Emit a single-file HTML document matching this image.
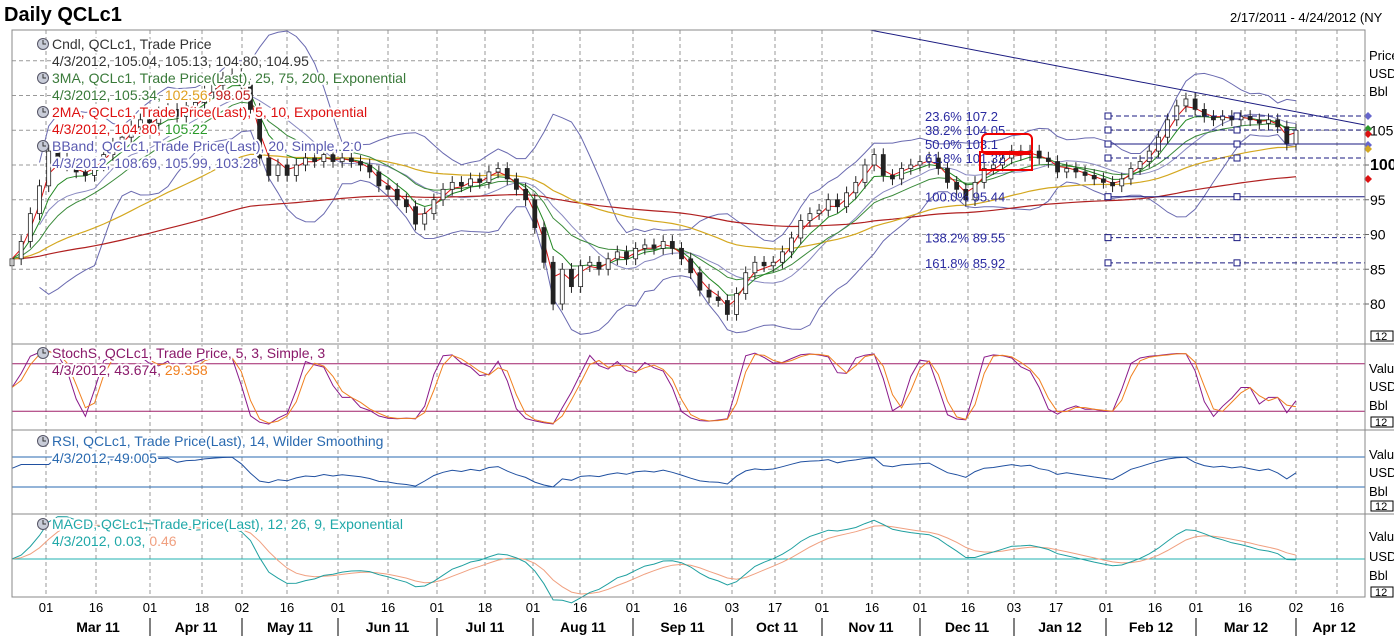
<!DOCTYPE html>
<html><head><meta charset="utf-8"><style>
html,body{margin:0;padding:0;background:#fff;}
svg{display:block;font-family:"Liberation Sans",Arial,sans-serif;}
.lg{font-size:14px;paint-order:stroke;stroke:#fff;stroke-width:4px;stroke-linejoin:round;}
</style></head><body>
<svg id="c" width="1394" height="637" viewBox="0 0 1394 637">
<text x="4" y="21" font-size="20" font-weight="bold" fill="#000">Daily QCLc1</text>
<text x="1230" y="22" font-size="13" fill="#000">2/17/2011 - 4/24/2012 (NY</text>
<g id="grid"></g><g id="marks"></g><g id="frame"></g><g id="legend"></g>
</svg>
<script>
// ---- data ----
const closes=[86.5,89,93,97,102,101,100,99,98.5,100,101.5,103,104,105.5,106.5,106,107.5,108,107,108.5,109,110.5,111.5,112.5,113,111.5,108,101,98.5,100,98.5,100,101,100.5,101.5,100.5,101,100.5,100,99,97,96.5,95,94,91.5,93,95,96.5,97.5,97,98,97.5,99,99.5,98,96.5,95,91,86,80,85,82.5,85.5,86,85,86.5,87.5,86.5,88,88.5,88,89,88,86.5,84.5,82,81,80.5,78.5,81.5,84.5,86,85.5,86,87.5,89.5,92,93,93.5,95,94,96,97.5,100,101.5,98.5,98,99.5,100,100.5,101,99.5,97.5,96.5,95,97.5,99.5,100,101,102,101.5,102,101,100.5,99,99.5,99,98.5,98,97.5,97,98,99.5,100.5,102,104,106.5,108.5,109.5,108,107,106.5,107,106.5,107,106.5,106,106.5,105.5,103,105];
const priceTicks=[80,85,90,95,100,105];
const dayLabels=["01","16","01","18","02","16","01","16","01","18","01","16","01","16","03","17","01","16","01","16","03","17","01","16","01","16","02","16"];
const dayX=[46,96,150,202,242,287,338,388,437,485,533,580,633,680,732,775,822,872,920,968,1014,1056,1106,1155,1196,1245,1296,1337];
const months=["Mar 11","Apr 11","May 11","Jun 11","Jul 11","Aug 11","Sep 11","Oct 11","Nov 11","Dec 11","Jan 12","Feb 12","Mar 12","Apr 12"];
const fibLevels=[107.2,104.05,103.1,101.32,95.44,89.55,85.92];
const fibPcts=["23.6%","38.2%","50.0%","61.8%","100.0%","138.2%","161.8%"];
// ---- helpers ----
const NS="http://www.w3.org/2000/svg";
function mk(p,t,a){const e=document.createElementNS(NS,t);for(const k in a)e.setAttribute(k,a[k]);p.appendChild(e);return e;}
const G=document.getElementById('grid'),M=document.getElementById('marks'),F=document.getElementById('frame'),L=document.getElementById('legend');
const X0=12,X1=1365,step=(1296-12)/(closes.length-1);
const xs=i=>X0+i*step;
const py=p=>165-(p-100)*6.95;
const sy=v=>427-v*0.79;
const ry=v=>472-(v-50)*0.75;
const my=v=>559-v*10;
function ema(a,n){const k=2/(n+1);let o=[],e=a[0];a.forEach((v,i)=>{e=i?v*k+e*(1-k):v;o.push(e);});return o;}
function sma(a,n){return a.map((v,i)=>{const s=a.slice(Math.max(0,i-n+1),i+1);return s.reduce((x,y)=>x+y,0)/s.length;});}
function line(arr,yf,col,w,name,start){let d="";arr.forEach((v,i)=>{if(i<(start||0))return;d+=(d?"L":"M")+xs(i).toFixed(1)+","+yf(v).toFixed(1);});
 const e=mk(M,'path',{d:d,fill:'none',stroke:col,'stroke-width':w});
 
 return e;}
// ---- grid ----
dayX.forEach(x=>{mk(G,'line',{x1:x,x2:x,y1:30,y2:597,stroke:'#999','stroke-dasharray':'4,3','stroke-width':1});});
[115,110,105,100,95,90,85,80].forEach(p=>mk(G,'line',{x1:X0,x2:X1,y1:py(p),y2:py(p),stroke:'#999','stroke-dasharray':'4,3'}));
// ---- frame ----
mk(F,'rect',{x:X0,y:30,width:X1-X0,height:567,fill:'none',stroke:'#888'});
[344,430,514].forEach(y=>mk(F,'line',{x1:X0,x2:1394,y1:y,y2:y,stroke:'#888'}));
priceTicks.forEach(p=>{mk(F,'line',{x1:X1,x2:X1+4,y1:py(p),y2:py(p),stroke:'#666'});
 const t=mk(F,'text',{x:1370,y:py(p)+5,'font-size':p===100?16:14,fill:'#000','font-weight':p===100?'bold':'normal'});t.textContent=String(p);
 
 });
[["Price",60],["USD",78],["Bbl",96]].forEach(a=>{const t=mk(F,'text',{x:1369,y:a[1],'font-size':13,fill:'#000'});t.textContent=a[0];});
[[373,"Valu"],[391,"USD"],[410,"Bbl"],[459,"Valu"],[477,"USD"],[496,"Bbl"],[541,"Valu"],[561,"USD"],[580,"Bbl"]].forEach(a=>{const t=mk(F,'text',{x:1369,y:a[0],'font-size':13,fill:'#000'});t.textContent=a[1];});
[340,426,510,596].forEach(y=>{mk(F,'rect',{x:1371,y:y-9,width:22,height:10,fill:'#fff',stroke:'#000'});const t=mk(F,'text',{x:1375,y:y,'font-size':11});t.textContent="12";});
dayLabels.forEach((d,i)=>{const t=mk(F,'text',{x:dayX[i],y:612,'font-size':13,'text-anchor':'middle',fill:'#000'});t.textContent=d;
 
 });
const mb=[12,150,242,338,437,533,633,732,822,920,1014,1106,1196,1296,1394];
mb.slice(1,-1).forEach(x=>mk(F,'line',{x1:x,x2:x,y1:618,y2:636,stroke:'#000'}));
months.forEach((m,i)=>{const t=mk(F,'text',{x:i==0?(46+150)/2:i==13?1334:(mb[i]+mb[i+1])/2,y:632,'font-size':14,'font-weight':'bold','text-anchor':'middle'});t.textContent=m;
 
 });
// ---- indicators ----
const e12=ema(closes,12),e37=ema(closes,37),e100=ema(closes,100),e2=ema(closes,2.5),e5=ema(closes,5);
const mid=sma(closes,10);
const sd=closes.map((v,i)=>{const s=closes.slice(Math.max(0,i-9),i+1);const m=mid[i];return Math.sqrt(s.reduce((a,b)=>a+(b-m)*(b-m),0)/s.length);});
line(mid.map((m,i)=>m+2*sd[i]+1),py,'#6a6ab0',1,'bband-upper',3);
line(mid.map((m,i)=>m-2*sd[i]-1),py,'#6a6ab0',1,'bband-lower',3);
line(mid,py,'#8888c0',1,'bband-middle',3);
line(e100,py,'#b02020',1.2,'ma-200');
line(e37,py,'#d4a820',1.2,'ma-75');
line(e12,py,'#3a8a3a',1,'ma-25');
line(e5,py,'#228822',1,'ma-10');
line(e2,py,'#dd1111',1,'ma-5');
closes.forEach((c,i)=>{const o=i?closes[i-1]:c-1;const hi=Math.max(o,c)+0.9,lo=Math.min(o,c)-0.9,x=xs(i);
 mk(M,'line',{x1:x,x2:x,y1:py(hi),y2:py(lo),stroke:'#222'});
 const r=mk(M,'rect',{x:x-2,y:py(Math.max(o,c)),width:4,height:Math.max(1,Math.abs(py(o)-py(c))),fill:c>=o?'#fff':'#222',stroke:'#222','stroke-width':0.8});
 
 });
// trendline & fib
mk(M,'line',{x1:870,y1:30,x2:1365,y2:125,stroke:'#1a1a80','stroke-width':1});
fibLevels.forEach((f,i)=>{const y=i<4?116+i*14:py(f);const solid=(i==2||i==4);
 mk(M,'line',{x1:1108,x2:1365,y1:y,y2:y,stroke:'#1a1a80','stroke-dasharray':solid?'':'5,3','stroke-width':1});
 [1108,1237].forEach(x=>mk(M,'rect',{x:x-3,y:y-3,width:6,height:6,fill:'#fff',stroke:'#1a1a80'}));
 const t=mk(M,'text',{x:925,y:y+5,'font-size':13,fill:'#2a2aa0'});t.textContent=fibPcts[i]+"  "+f.toFixed(2).replace(/0$/,'');
 
 });
mk(M,'rect',{x:982,y:134,width:50,height:20,rx:5,fill:'none',stroke:'#e00','stroke-width':2});
mk(M,'rect',{x:980,y:152,width:52,height:18,fill:'none',stroke:'#e00','stroke-width':2});
[[1368,116,'#6666cc'],[1368,129,'#2a9a2a'],[1368,134,'#dd1111'],[1368,145,'#6666cc'],[1368,149,'#d4a820'],[1368,179,'#dd1111']].forEach(a=>mk(M,'path',{d:`M${a[0]},${a[1]-4}l4,4l-4,4l-4,-4z`,fill:a[2]}));
// stochastic
const k=closes.map((c,i)=>{const s=closes.slice(Math.max(0,i-3),i+1);const h=Math.max(...s)+0.5,l=Math.min(...s)-0.5;return (c-l)/(h-l)*100;});
const ks=sma(k,2),ds=sma(ks,2);
mk(M,'line',{x1:X0,x2:X1,y1:sy(80),y2:sy(80),stroke:'#a0206a'});mk(M,'line',{x1:X0,x2:X1,y1:sy(20),y2:sy(20),stroke:'#a0206a'});
line(ks,sy,'#8a1a8a',1,'stoch-k');line(ds,sy,'#f08020',1,'stoch-d');
// RSI
let ag=0,al=0;const rsi=closes.map((c,i)=>{if(!i)return 60;const d=c-closes[i-1];ag=(ag*6+Math.max(d,0))/7;al=(al*6+Math.max(-d,0))/7;return al?100-100/(1+ag/al):70;}).map(v=>50+(v-50)*0.5);
mk(M,'line',{x1:X0,x2:X1,y1:ry(70),y2:ry(70),stroke:'#2a6ab0'});mk(M,'line',{x1:X0,x2:X1,y1:ry(30),y2:ry(30),stroke:'#2a6ab0'});
line(rsi,ry,'#2050a0',1,'rsi-line');
// MACD
const a6=ema(closes,6),a13=ema(closes,13);const macd=a6.map((v,i)=>(v-a13[i])*1.1);const sig=ema(macd,5);
mk(M,'line',{x1:X0,x2:X1,y1:my(0),y2:my(0),stroke:'#20b0b0'});
line(sig,my,'#f0a080',1,'macd-signal');line(macd,my,'#20a0a0',1,'macd-line');
// legends
function lg(x,y,parts,icon){if(icon){mk(L,'circle',{cx:x-9,cy:y-5,r:5.5,fill:'#c8ccd8',stroke:'#556'});mk(L,'path',{d:`M${x-9},${y-9}v4h3`,stroke:'#333',fill:'none'});}
 const t=mk(L,'text',{x:x,y:y,class:'lg'});
 parts.forEach(p=>{const s=mk(t,'tspan',{fill:p[1]});s.textContent=p[0];});}
lg(52,49,[["Cndl, QCLc1, Trade Price","#333"]],1);
lg(52,66,[["4/3/2012, 105.04, 105.13, 104.80, 104.95","#333"]]);
lg(52,83,[["3MA, QCLc1, Trade Price(Last),  25, 75, 200, Exponential","#3a7a3a"]],1);
lg(52,100,[["4/3/2012, 105.34, ","#3a7a3a"],["102.56, ","#e0a020"],["98.05","#c02020"]]);
lg(52,117,[["2MA, QCLc1, Trade Price(Last),  5, 10, Exponential","#dd1111"]],1);
lg(52,134,[["4/3/2012, 104.80, ","#dd1111"],["105.22","#2a9a2a"]]);
lg(52,151,[["BBand, QCLc1, Trade Price(Last),  20, Simple, 2.0","#5a5ab0"]],1);
lg(52,168,[["4/3/2012, 108.69, 105.99, 103.28","#5a5ab0"]]);
lg(52,358,[["StochS, QCLc1, Trade Price,  5, 3, Simple, 3","#8a1a6a"]],1);
lg(52,375,[["4/3/2012, 43.674, ","#8a1a6a"],["29.358","#f08020"]]);
lg(52,446,[["RSI, QCLc1, Trade Price(Last),  14, Wilder Smoothing","#2a6ab0"]],1);
lg(52,463,[["4/3/2012, 49.005","#2a6ab0"]]);
lg(52,529,[["MACD, QCLc1, Trade Price(Last),  12, 26, 9, Exponential","#20a8a8"]],1);
lg(52,546,[["4/3/2012, 0.03, ","#20a8a8"],["0.46","#f0a080"]]);
</script>
</body></html>
